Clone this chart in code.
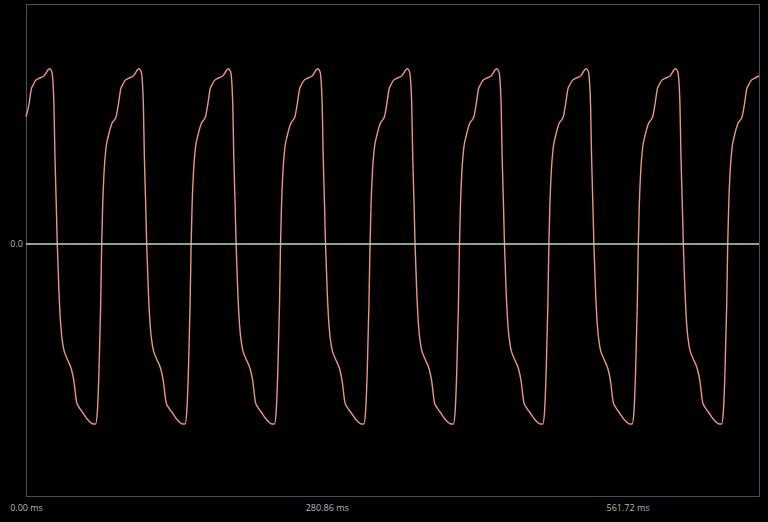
<!DOCTYPE html>
<html lang="en">
	<head>
		<meta charset="UTF-8" />
		<title>Waveform</title>
		<script src="https://d3js.org/d3.v7.min.js"></script>
		<style>
			html, body { margin: 0; padding: 0; background: #000; }
			svg { display: block; }
		</style>
	</head>
	<body>
		<script>
			var w = 768;
			var h = 522;
			var margin = { top: 4, right: 9, bottom: 26, left: 26 };

			// x axis domain and tick labels (ms)
			var timeDomain = [0, 684.5];
			var tickValues = [0, 280.86, 561.72];
			var tickLabels = ["0.00 ms", "280.86 ms", "561.72 ms"];
			var ampDomain = [-1.05, 1.0];

			// sample times (ms), one row per cycle
			var timeMs = [
				0, 2.7, 5.2, 6.4, 8.7, 12.1, 16.7, 22.0, 23.9, 25.1, 26.1, 27.0, 28.3, 29.2, 30.7, 32.3, 34.8, 38.6, 42.3, 44.7, 47.3, 49.4, 52.6, 57.3, 62.9, 65.0, 66.6, 68.1, 69.7,
				70.7, 71.6, 72.9, 74.7, 76.9, 80.0, 84.1, 86.2, 88.7, 89.9, 92.2, 95.6, 100.2, 105.5, 107.4, 108.6, 109.6, 110.5, 111.8, 112.7, 114.2, 115.8, 118.3, 122.1, 125.8, 128.2, 130.8, 132.9, 136.1, 140.8, 146.4, 148.5, 150.1, 151.6, 153.2,
				154.2, 155.1, 156.4, 158.2, 160.4, 163.5, 167.6, 169.7, 172.2, 173.4, 175.7, 179.1, 183.7, 189.0, 190.9, 192.1, 193.1, 194.0, 195.3, 196.2, 197.7, 199.3, 201.8, 205.6, 209.3, 211.7, 214.3, 216.4, 219.6, 224.3, 229.9, 232.0, 233.6, 235.1, 236.7,
				237.7, 238.6, 239.9, 241.7, 243.9, 247.0, 251.1, 253.2, 255.7, 256.9, 259.2, 262.6, 267.2, 272.5, 274.4, 275.6, 276.6, 277.5, 278.8, 279.7, 281.2, 282.8, 285.3, 289.1, 292.8, 295.2, 297.8, 299.9, 303.1, 307.8, 313.4, 315.5, 317.1, 318.6, 320.2,
				321.3, 322.2, 323.5, 325.3, 327.5, 330.6, 334.7, 336.8, 339.3, 340.5, 342.8, 346.2, 350.8, 356.1, 358.0, 359.2, 360.2, 361.1, 362.4, 363.3, 364.8, 366.4, 368.9, 372.7, 376.4, 378.8, 381.4, 383.5, 386.7, 391.4, 397.0, 399.1, 400.7, 402.2, 403.8,
				404.8, 405.7, 407.0, 408.8, 411.0, 414.1, 418.2, 420.3, 422.8, 424.0, 426.3, 429.7, 434.3, 439.6, 441.5, 442.7, 443.7, 444.6, 445.9, 446.8, 448.3, 449.9, 452.4, 456.2, 459.9, 462.3, 464.9, 467.0, 470.2, 474.9, 480.5, 482.6, 484.2, 485.7, 487.3,
				488.3, 489.2, 490.5, 492.3, 494.5, 497.6, 501.7, 503.8, 506.3, 507.5, 509.8, 513.2, 517.8, 523.1, 525.0, 526.2, 527.2, 528.1, 529.4, 530.3, 531.8, 533.4, 535.9, 539.7, 543.4, 545.8, 548.4, 550.5, 553.7, 558.4, 564.0, 566.1, 567.7, 569.2, 570.8,
				571.8, 572.7, 574.0, 575.8, 578.0, 581.1, 585.2, 587.3, 589.8, 591.0, 593.3, 596.7, 601.3, 606.6, 608.5, 609.7, 610.7, 611.6, 612.9, 613.8, 615.3, 616.9, 619.4, 623.2, 626.9, 629.3, 631.9, 634.0, 637.2, 641.9, 647.5, 649.6, 651.2, 652.7, 654.3,
				655.3, 656.2, 657.5, 659.3, 661.5, 664.6, 668.7, 670.8, 673.3, 674.5, 676.8, 680.2, 684.5
			];

			// signal amplitude at each sample
			var amplitude = [
				0.53, 0.58, 0.65, 0.66, 0.68, 0.69, 0.70, 0.73, 0.72, 0.68, 0.58, 0.37, 0.16, 0, -0.19, -0.33, -0.43, -0.48, -0.52, -0.57, -0.66, -0.68, -0.70, -0.73, -0.75, -0.75, -0.70, -0.54, -0.26,
				0, 0.16, 0.30, 0.40, 0.45, 0.50, 0.53, 0.58, 0.65, 0.66, 0.68, 0.69, 0.70, 0.73, 0.72, 0.68, 0.58, 0.37, 0.16, 0, -0.19, -0.33, -0.43, -0.48, -0.52, -0.57, -0.66, -0.68, -0.70, -0.73, -0.75, -0.75, -0.70, -0.54, -0.26,
				0, 0.16, 0.30, 0.40, 0.45, 0.50, 0.53, 0.58, 0.65, 0.66, 0.68, 0.69, 0.70, 0.73, 0.72, 0.68, 0.58, 0.37, 0.16, 0, -0.19, -0.33, -0.43, -0.48, -0.52, -0.57, -0.66, -0.68, -0.70, -0.73, -0.75, -0.75, -0.70, -0.54, -0.26,
				0, 0.16, 0.30, 0.40, 0.45, 0.50, 0.53, 0.58, 0.65, 0.66, 0.68, 0.69, 0.70, 0.73, 0.72, 0.68, 0.58, 0.37, 0.16, 0, -0.19, -0.33, -0.43, -0.48, -0.52, -0.57, -0.66, -0.68, -0.70, -0.73, -0.75, -0.75, -0.70, -0.54, -0.26,
				0, 0.16, 0.30, 0.40, 0.45, 0.50, 0.53, 0.58, 0.65, 0.66, 0.68, 0.69, 0.70, 0.73, 0.72, 0.68, 0.58, 0.37, 0.16, 0, -0.19, -0.33, -0.43, -0.48, -0.52, -0.57, -0.66, -0.68, -0.70, -0.73, -0.75, -0.75, -0.70, -0.54, -0.26,
				0, 0.16, 0.30, 0.40, 0.45, 0.50, 0.53, 0.58, 0.65, 0.66, 0.68, 0.69, 0.70, 0.73, 0.72, 0.68, 0.58, 0.37, 0.16, 0, -0.19, -0.33, -0.43, -0.48, -0.52, -0.57, -0.66, -0.68, -0.70, -0.73, -0.75, -0.75, -0.70, -0.54, -0.26,
				0, 0.16, 0.30, 0.40, 0.45, 0.50, 0.53, 0.58, 0.65, 0.66, 0.68, 0.69, 0.70, 0.73, 0.72, 0.68, 0.58, 0.37, 0.16, 0, -0.19, -0.33, -0.43, -0.48, -0.52, -0.57, -0.66, -0.68, -0.70, -0.73, -0.75, -0.75, -0.70, -0.54, -0.26,
				0, 0.16, 0.30, 0.40, 0.45, 0.50, 0.53, 0.58, 0.65, 0.66, 0.68, 0.69, 0.70, 0.73, 0.72, 0.68, 0.58, 0.37, 0.16, 0, -0.19, -0.33, -0.43, -0.48, -0.52, -0.57, -0.66, -0.68, -0.70, -0.73, -0.75, -0.75, -0.70, -0.54, -0.26,
				0, 0.16, 0.30, 0.40, 0.45, 0.50, 0.53, 0.58, 0.65, 0.66, 0.68, 0.69, 0.70
			];

			var samples = timeMs.map(function (t, i) {
				return { t: t, v: amplitude[i] };
			});

			var xScale = d3
				.scaleLinear()
				.domain(timeDomain)
				.range([margin.left, w - margin.right]);

			var yScale = d3
				.scaleLinear()
				.domain(ampDomain)
				.range([h - margin.bottom, margin.top]);

			var svg = d3
				.select("body")
				.append("svg")
				.attr("width", w)
				.attr("height", h)
				.style("background", "#000");

			// plot frame
			svg.append("rect")
				.attr("x", xScale(timeDomain[0]) + 0.5)
				.attr("y", yScale(ampDomain[1]) + 0.5)
				.attr("width", xScale(timeDomain[1]) - xScale(timeDomain[0]))
				.attr("height", yScale(ampDomain[0]) - yScale(ampDomain[1]))
				.attr("fill", "none")
				.attr("stroke", "#4a4e5e")
				.attr("stroke-width", 1);

			// x tick labels
			var xAxis = d3
				.axisBottom(xScale)
				.tickValues(tickValues)
				.tickSize(0)
				.tickPadding(9)
				.tickFormat(function (d, i) {
					return tickLabels[i];
				});

			var gx = svg.append("g")
				.attr("transform", "translate(0," + yScale(ampDomain[0]) + ")")
				.call(xAxis);
			gx.select(".domain").remove();
			gx.selectAll("text")
				.attr("fill", "#b8b8b8")
				.attr("font-family", "'Open Sans', sans-serif")
				.attr("font-size", "9px");

			// y tick label
			var yAxis = d3
				.axisLeft(yScale)
				.tickValues([0])
				.tickSize(0)
				.tickPadding(3)
				.tickFormat(d3.format(".1f"));

			var gy = svg.append("g")
				.attr("transform", "translate(" + xScale(timeDomain[0]) + ",0)")
				.call(yAxis);
			gy.select(".domain").remove();
			gy.selectAll("text")
				.attr("fill", "#b8b8b8")
				.attr("font-family", "'Open Sans', sans-serif")
				.attr("font-size", "9px");

			// waveform
			var line = d3
				.line()
				.x(function (d) {
					return xScale(d.t);
				})
				.y(function (d) {
					return yScale(d.v);
				})
				.curve(d3.curveMonotoneX);

			svg.append("path")
				.datum(samples)
				.attr("d", line)
				.attr("fill", "none")
				.attr("stroke", "#ea9488")
				.attr("stroke-width", 1.4)
				.attr("stroke-linejoin", "round");

			// zero line
			svg.append("line")
				.attr("x1", xScale(timeDomain[0]))
				.attr("x2", xScale(timeDomain[1]))
				.attr("y1", yScale(0))
				.attr("y2", yScale(0))
				.attr("stroke", "#b4dfae")
				.attr("stroke-width", 1.6);
		</script>
	</body>
</html>
